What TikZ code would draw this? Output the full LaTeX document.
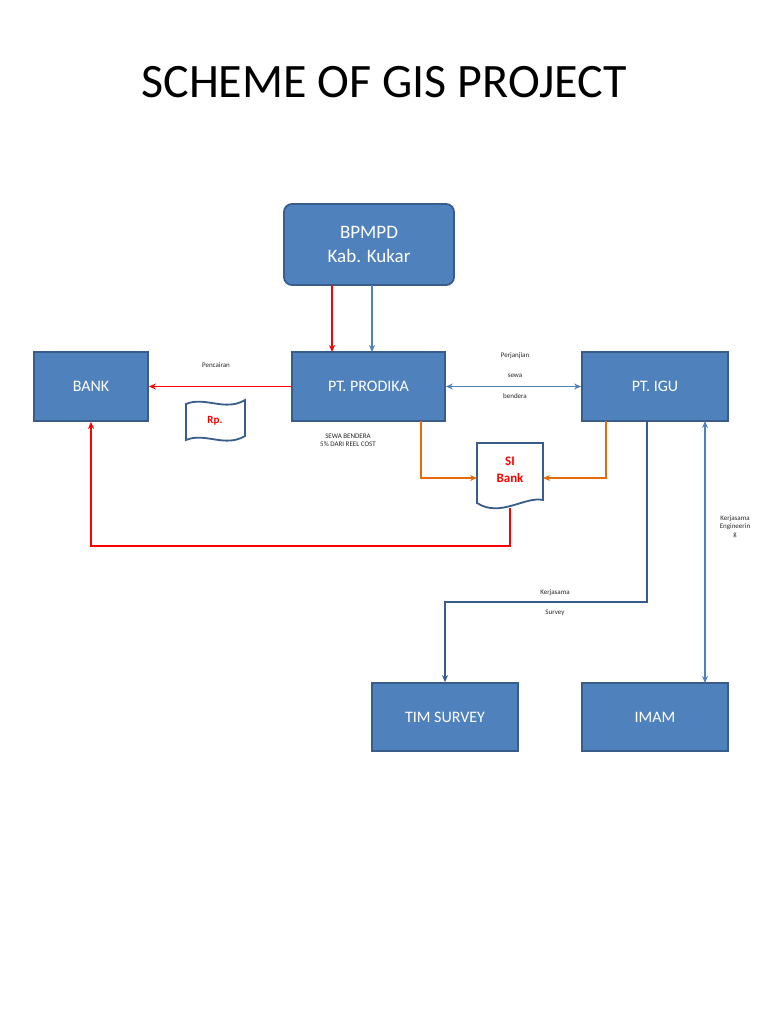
\documentclass[tikz,border=0pt]{standalone}
\usepackage{fontspec}
\setmainfont{Carlito}
\usetikzlibrary{arrows.meta}
\definecolor{bfill}{HTML}{4F81BD}
\definecolor{bdraw}{HTML}{385D8A}
\definecolor{myorange}{HTML}{E46C0A}
\begin{document}
\begin{tikzpicture}[x=1pt,y=-1pt,
  box/.style={draw=bdraw,line width=1.8pt,fill=bfill,text=white,font=\fontsize{16}{18}\selectfont,inner sep=0},
  lbl/.style={font=\fontsize{7}{8}\selectfont,text=black!85},
  red/.style={draw=red,line width=1.5pt,-{Stealth[length=7pt,width=6pt]}},
  blu/.style={draw=bfill,line width=1.5pt,-{Stealth[length=7pt,width=6pt]}},
  ora/.style={draw=myorange,line width=1.5pt,-{Stealth[length=7pt,width=6pt]}}]
\useasboundingbox (0,0) rectangle (768,1024);
\node[font=\fontsize{48}{52}\selectfont] (title) at (384,82) {SCHEME OF GIS PROJECT};
\node[box,rounded corners=8pt,minimum width=170pt,minimum height=81pt,align=center,font=\fontsize{19}{24}\selectfont] (bp) at (369,244.5) {BPMPD\\Kab. Kukar};
\node[box,minimum width=114pt,minimum height=69pt] (bank) at (91,386.5) {BANK};
\node[box,minimum width=153pt,minimum height=69pt] (pro) at (368.5,386.5) {PT. PRODIKA};
\node[box,minimum width=146pt,minimum height=69pt] (igu) at (655,386.5) {PT. IGU};
\node[box,minimum width=146pt,minimum height=68pt] (tim) at (445,717) {TIM SURVEY};
\node[box,minimum width=146pt,minimum height=68pt] (imam) at (655,717) {IMAM};
% Rp flag
\draw[bdraw,line width=1.8pt,fill=white] (186,404) .. controls (205,396) and (225,412) .. (245,400) -- (245,436) .. controls (225,448) and (205,432) .. (186,440) -- cycle;
\node[text=red,font=\bfseries\fontsize{11}{13}\selectfont] (rp) at (215,421) {Rp.};
% SI Bank doc
\draw[bdraw,line width=1.8pt,fill=white] (477,443) -- (543,443) -- (543,500) .. controls (525,496) and (500,518) .. (477,503) -- cycle;
\node[text=red,font=\bfseries\fontsize{13}{17}\selectfont,align=center] (si) at (510,470) {SI\\Bank};
\coordinate (sib) at (510,508);
% arrows
\draw[red] (332,285) -- (332,352);
\draw[blu] (372,285) -- (372,352);
\draw[red] (pro.west) -- (bank.east);
\draw[blu,{Stealth[length=7pt,width=6pt]}-{Stealth[length=7pt,width=6pt]}] (pro.east) -- (igu.west);
\draw[ora] (421,421) |- (477,478);
\draw[ora] (606,421) |- (543,478);
\draw[red] (sib) -- (510,546) -| (bank.south);
\draw[blu,draw=bdraw] (647,421) |- (445,602) -- (tim.north);
\draw[blu,{Stealth[length=7pt,width=6pt]}-{Stealth[length=7pt,width=6pt]}] (705,421) -- (705,683);
% labels
\node[lbl] (l1) at (216,365) {Pencairan};
\node[lbl] (l2) at (515,356) {Perjanjian};
\node[lbl] (l3) at (515,376) {sewa};
\node[lbl] (l4) at (515,396) {bendera};
\node[lbl,align=center] (l5) at (348,440) {SEWA BENDERA\\5\% DARI REEL COST};
\node[lbl] (l6) at (555,593) {Kerjasama};
\node[lbl] (l7) at (555,613) {Survey};
\node[lbl,align=center] (l8) at (735,527) {Kerjasama\\Engineerin\\g};
\end{tikzpicture}
\end{document}
